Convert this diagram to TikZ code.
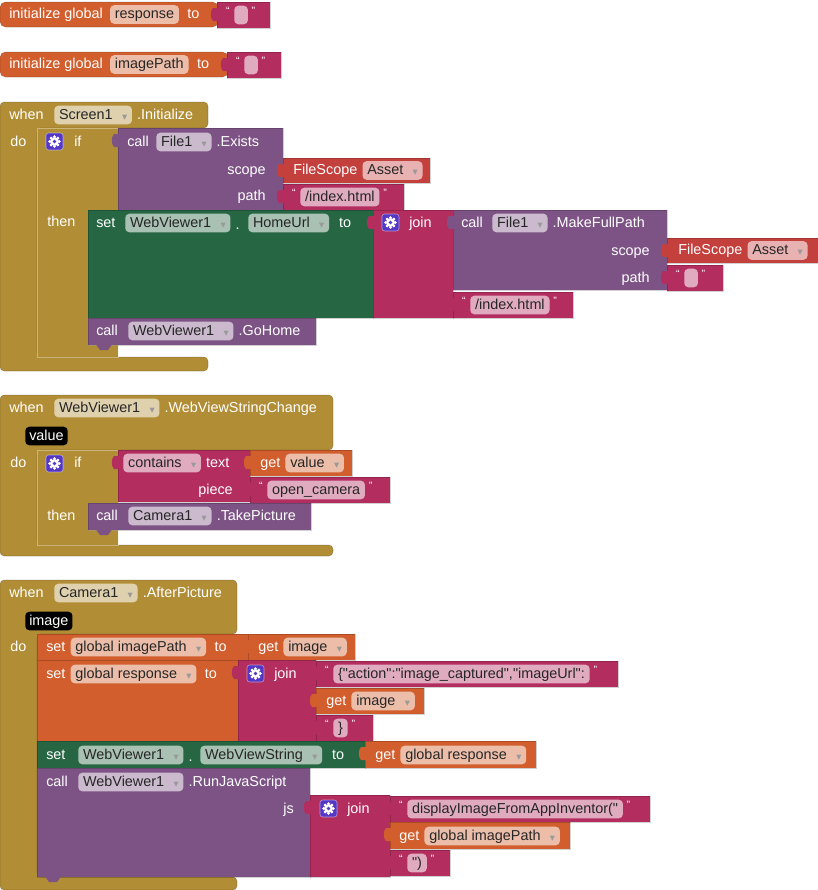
\documentclass[tikz,border=0pt]{standalone}
\usepackage{fontspec}
\newfontfamily\blkfont{Liberation Sans}[Ligatures=TeXOff]
\newfontfamily\symfont{DejaVu Sans}
\usetikzlibrary{positioning}
\definecolor{evgold}{RGB}{177,142,53}
\definecolor{varorange}{RGB}{209,94,44}
\definecolor{txtpink}{RGB}{179,45,94}
\definecolor{compurple}{RGB}{125,83,133}
\definecolor{setgreen}{RGB}{38,102,67}
\definecolor{scopered}{RGB}{196,64,60}
\definecolor{gearblue}{RGB}{84,55,196}
\newcommand\dd{\hspace{7pt}{\symfont\fontsize{5}{5}\selectfont\color{black!40}▼}\hspace{1pt}}
\newcommand\blank{\rule{3pt}{0pt}}
% value plug on the left edge of a block
\newcommand\tab[3]{\fill[#1] (#2+1,#3+6) -- (#2-4,#3+6) .. controls (#2-7,#3+9) and (#2-7,#3+16) .. (#2-4,#3+19) -- (#2+1,#3+19) -- cycle;}
% statement nub under a block
\newcommand\nub[3]{\fill[#1] (#2+8,#3-.5) -- (#2+12,#3+5) -- (#2+20,#3+5) -- (#2+24,#3-.5) -- cycle;}
\newcommand\gear[2]{%
  \fill[gearblue,draw=white,draw opacity=.5,rounded corners=2] (#1,#2) rectangle ++(17,17);
  \begin{scope}[shift={(#1+8.5,#2+8.5)}]
    \foreach \a in {0,45,...,315} \fill[white] (\a:4.8) circle (1.6);
    \fill[white] (0,0) circle (4.4);
    \fill[gearblue] (0,0) circle (1.9);
  \end{scope}}
% text block: name, x1, y1, x2, field text
\newcommand\strblk[5]{%
  \draw[block=txtpink] (#2,#3) rectangle (#4,#3+26);
  \tab{txtpink}{#2}{#3}
  \node[quo] (#1q1) at (#2+11,#3+9) {“};
  \node[fld] (#1f) at (#2+17,#3+13) {#5};
  \node[quo, right=2.5pt of #1f.east, yshift=3pt] (#1q2) {”};}
\tikzset{
  block/.style={fill=#1, draw=black, draw opacity=.18, line width=.4pt},
  ifblk/.style={fill=evgold, draw=white, draw opacity=.35, line width=.6pt},
  txt/.style={font=\blkfont\fontsize{10.8}{12}\selectfont, text height=8.6pt, text depth=2.1pt},
  lbl/.style={txt, anchor=west, inner sep=0pt, text=white},
  lblr/.style={lbl, anchor=east},
  fld/.style={txt, anchor=west, inner xsep=3.6pt, inner ysep=1.6pt, rounded corners=3pt,
    fill=white, fill opacity=.6, text opacity=1, text=black!85},
  quo/.style={anchor=center, inner sep=0pt, text=white, font=\blkfont\fontsize{8}{8}\selectfont},
  argtag/.style={txt, fill=black, rounded corners=3pt, text=white, inner xsep=3pt, inner ysep=1.6pt},
  node distance=3.5pt
}
\begin{document}
\begin{tikzpicture}[x=0.75pt,y=-0.75pt]
\useasboundingbox (0,0) rectangle (818,890);

% initialize global response / imagePath
\draw[block=varorange, rounded corners=4] (0,2) rectangle (218,27);
\node[lbl] (ig1) at (9,14.5) {initialize global};
\node[fld, right=5pt of ig1] (gresp) {response};
\node[lbl, right=6pt of gresp] (to1) {to};
\strblk{s1}{217}{2}{270}{\blank}
\draw[block=varorange, rounded corners=4] (0,52) rectangle (228,77);
\node[lbl] (ig2) at (9,64.5) {initialize global};
\node[fld, right=5pt of ig2] (gpath) {imagePath};
\node[lbl, right=6pt of gpath] (to2) {to};
\strblk{s2}{227}{52}{281}{\blank}

% when Screen1.Initialize
\draw[block=evgold, rounded corners=3] (0,371) -- (0,102) -- (208,102) -- (208,128) -- (37,128)
  -- (37,357) -- (208,357) -- (208,371) -- cycle;
\node[lbl] (w1) at (9,115) {when};
\node[fld] (scr) at (54,115) {Screen1\dd};
\node[lbl, right=of scr] (ini) {.Initialize};
\node[lbl] (do1) at (10,142) {do};
\draw[ifblk] (37,128) -- (118,128) -- (118,210) -- (88,210) -- (88,345) -- (118,345) -- (118,357)
  -- (37,357) -- cycle;
\gear{46}{133}
\node[lbl] (if1) at (74,142) {if};
\node[lbl] (then1) at (47,222) {then};
\draw[block=compurple] (118,128) rectangle (283,210);
\tab{compurple}{118}{128}
\node[lbl] (c1) at (127,142) {call};
\node[fld] (f1) at (156,142) {File1\dd};
\node[lbl, right=of f1] (ex) {.Exists};
\node[lblr] (sc1) at (266,170) {scope};
\node[lblr] (pa1) at (266,196) {path};
\draw[block=scopered] (283,158) rectangle (430,183);
\tab{scopered}{283}{158}
\node[lbl] (fs1) at (293,170.5) {FileScope};
\node[fld, right=of fs1] (as1) {Asset\dd};
\strblk{s3}{283}{184}{404}{/index.html}

\draw[block=setgreen] (88,210) rectangle (373,318);
\nub{setgreen}{88}{318}
\node[lbl] (set1) at (96,223) {set};
\node[fld] (wv1) at (125,223) {WebViewer1\dd};
\node[lbl, right=of wv1, yshift=-1.5pt] (dot1) {.};
\node[fld] (hu) at (248,223) {HomeUrl\dd};
\node[lbl, right=7pt of hu] (to3) {to};
\draw[block=txtpink] (373,210) rectangle (453,318);
\tab{txtpink}{373}{210}
\gear{382}{214}
\node[lbl] (j1) at (409,223) {join};
\draw[block=compurple] (453,210) rectangle (667,290);
\tab{compurple}{453}{210}
\node[lbl] (c2) at (461,223) {call};
\node[fld] (f2) at (492,223) {File1\dd};
\node[lbl, right=of f2] (mfp) {.MakeFullPath};
\node[lblr] (sc2) at (650,251) {scope};
\node[lblr] (pa2) at (650,278) {path};
\draw[block=scopered] (667,238) rectangle (818,263);
\tab{scopered}{667}{238}
\node[lbl] (fs2) at (678,250.5) {FileScope};
\node[fld, right=of fs2] (as2) {Asset\dd};
\strblk{s4}{667}{265}{723}{\blank}
\strblk{s5}{453}{292}{573}{/index.html}

\draw[block=compurple] (88,318) rectangle (316,345);
\nub{compurple}{88}{345}
\node[lbl] (c3) at (96,331) {call};
\node[fld] (wv2) at (128,331) {WebViewer1\dd};
\node[lbl, right=of wv2] (gh) {.GoHome};

% when WebViewer1.WebViewStringChange
\draw[block=evgold, rounded corners=3] (0,556) -- (0,395) -- (333,395) -- (333,450) -- (37,450)
  -- (37,545) -- (333,545) -- (333,556) -- cycle;
\node[lbl] (w2) at (9,408) {when};
\node[fld] (wv3) at (54,408) {WebViewer1\dd};
\node[lbl, right=of wv3] (wvsc) {.WebViewStringChange};
\node[argtag, anchor=west] (argval) at (25,436) {value};
\node[lbl] (do2) at (10,463) {do};
\draw[ifblk] (37,450) -- (118,450) -- (118,503) -- (88,503) -- (88,530) -- (118,530) -- (118,545)
  -- (37,545) -- cycle;
\gear{46}{455}
\node[lbl] (if2) at (74,463) {if};
\node[lbl] (then2) at (47,516) {then};
\draw[block=txtpink] (118,450) rectangle (250,502);
\tab{txtpink}{118}{450}
\node[fld] (cont) at (123,463) {contains\dd};
\node[lbl, right=of cont] (tx) {text};
\node[lblr] (pc) at (233,490) {piece};
\draw[block=varorange] (250,450) rectangle (352,476);
\tab{varorange}{250}{450}
\node[lbl] (g1) at (260,463) {get};
\node[fld, right=of g1] (gv) {value\dd};
\strblk{s6}{250}{477}{390}{open\_camera}
\draw[block=compurple] (88,503) rectangle (311,530);
\nub{compurple}{88}{530}
\node[lbl] (c4) at (96,516) {call};
\node[fld] (cam1) at (128,516) {Camera1\dd};
\node[lbl, right=of cam1] (tp) {.TakePicture};

% when Camera1.AfterPicture
\draw[block=evgold, rounded corners=3] (0,890) -- (0,580) -- (237,580) -- (237,634) -- (37,634)
  -- (37,877) -- (237,877) -- (237,890) -- cycle;
\node[lbl] (w3) at (9,593) {when};
\node[fld] (cam2) at (54,593) {Camera1\dd};
\node[lbl, right=of cam2] (ap) {.AfterPicture};
\node[argtag, anchor=west] (argimg) at (25,621) {image};
\node[lbl] (do3) at (10,647) {do};
\draw[block=varorange] (37,634) rectangle (248,660);
\node[lbl] (set2) at (46,647) {set};
\node[fld, right=of set2] (gip1) {global imagePath\dd};
\node[lbl, right=6pt of gip1] (to4) {to};
\draw[block=varorange] (248,634) rectangle (355,660);
\tab{varorange}{248}{634}
\node[lbl] (g2) at (258,647) {get};
\node[fld, right=of g2] (gi1) {image\dd};
\draw[block=varorange] (37,660) rectangle (238,741);
\nub{varorange}{37}{741}
\node[lbl] (set3) at (46,674) {set};
\node[fld, right=of set3] (gr1) {global response\dd};
\node[lbl, right=6pt of gr1] (to5) {to};
\draw[block=txtpink] (238,660) rectangle (316,741);
\tab{txtpink}{238}{660}
\gear{247}{665}
\node[lbl] (j2) at (274,674) {join};
\strblk{s7}{316}{661}{618}{\{"action":"image\_captured","imageUrl":}
\draw[block=varorange] (316,688) rectangle (424,714);
\tab{varorange}{316}{688}
\node[lbl] (g3) at (326,701) {get};
\node[fld, right=of g3] (gi2) {image\dd};
\strblk{s8}{316}{715}{373}{\}}
\draw[block=setgreen] (37,741) rectangle (365,768);
\nub{setgreen}{37}{768}
\node[lbl] (set4) at (46,755) {set};
\node[fld] (wv4) at (78,755) {WebViewer1\dd};
\node[lbl, right=of wv4, yshift=-1.5pt] (dot2) {.};
\node[fld] (wvs) at (200,755) {WebViewString\dd};
\node[lbl, right=7pt of wvs] (to6) {to};
\draw[block=varorange] (365,741) rectangle (536,768);
\tab{varorange}{365}{741}
\node[lbl] (g4) at (375,755) {get};
\node[fld, right=of g4] (gr2) {global response\dd};
\draw[block=compurple] (37,768) rectangle (310,877);
\nub{compurple}{37}{877}
\node[lbl] (c5) at (46,782) {call};
\node[fld] (wv5) at (78,782) {WebViewer1\dd};
\node[lbl, right=of wv5] (rjs) {.RunJavaScript};
\node[lblr] (js) at (294,809) {js};
\draw[block=txtpink] (310,795) rectangle (390,877);
\tab{txtpink}{310}{795}
\gear{320}{800}
\node[lbl] (j3) at (347,809) {join};
\strblk{s9}{390}{796}{650}{displayImageFromAppInventor("}
\draw[block=varorange] (390,822) rectangle (570,849);
\tab{varorange}{390}{822}
\node[lbl] (g5) at (399,836) {get};
\node[fld, right=of g5] (gip2) {global imagePath\dd};
\strblk{s10}{390}{850}{450}{")}
\end{tikzpicture}
\end{document}
